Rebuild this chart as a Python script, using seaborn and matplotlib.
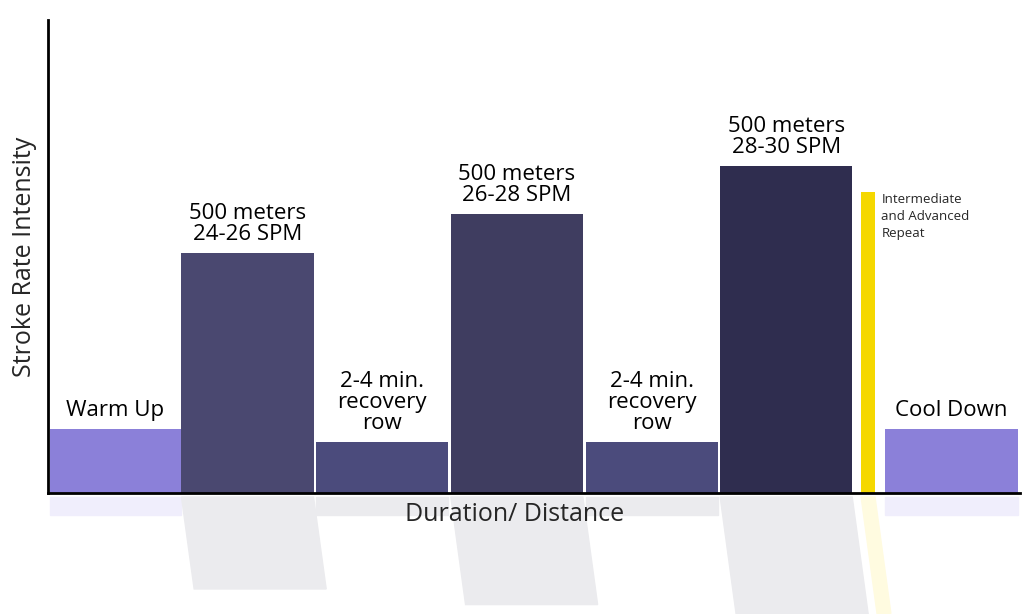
import matplotlib
matplotlib.use("Agg")
import matplotlib.pyplot as plt
import seaborn as sns
from matplotlib.patches import Polygon

sns.set_style("white")
plt.rcParams['font.family'] = ['Open Sans', 'DejaVu Sans']

labels = ["Warm Up", "500 meters\n24-26 SPM", "2-4 min.\nrecovery\nrow", "500 meters\n26-28 SPM",
          "2-4 min.\nrecovery\nrow", "500 meters\n28-30 SPM", "", "Cool Down"]
centers = [0.51, 1.51, 2.53, 3.55, 4.57, 5.59, 6.21, 6.84]
widths = [0.99, 1.0, 1.0, 1.0, 1.0, 1.0, 0.105, 1.01]
heights = [0.64, 2.40, 0.51, 2.79, 0.51, 3.27, 3.01, 0.64]
colors = ["#8b80d9", "#4a4870", "#4b4b7c", "#3f3d60", "#4b4b7c", "#2f2d4f", "#f5d800", "#8b80d9"]
shadow = ["#f0eefc", "#ebebee", "#ebebee", "#ebebee", "#ebebee", "#ebebee", "#fffbe0", "#f0eefc"]

fig = plt.figure(figsize=(10.24, 6.14), dpi=100)
ax = fig.add_axes([0.047, 0.197, 0.949, 0.77])

# shadows
for c, w, h, sc in zip(centers, widths, heights, shadow):
    l, r = c - w / 2, c + w / 2
    if h > 1:
        d = h * 0.4
        poly = [(l, -0.04), (r, -0.04), (r + d * 0.1, -d), (l + d * 0.1, -d)]
    else:
        poly = [(l, -0.04), (r, -0.04), (r, -0.22), (l, -0.22)]
    ax.add_patch(Polygon(poly, closed=True, color=sc, clip_on=False, zorder=0))

ax.bar(centers, heights, width=widths, color=colors, edgecolor="none", zorder=2)

for i, (c, h, t) in enumerate(zip(centers, heights, labels)):
    if not t:
        continue
    ax.text(c, h + 0.08, t, ha="center", va="bottom", fontsize=16, linespacing=1.0, color="black")

ax.text(6.31, 3.0, "Intermediate\nand Advanced\nRepeat", ha="left", va="top", fontsize=9.5, linespacing=1.4)

ax.set_xlim(0, 7.36)
ax.set_ylim(0, 4.73)
ax.set_xticks([])
ax.set_yticks([])
for s in ["top", "right"]:
    ax.spines[s].set_visible(False)
for s in ["left", "bottom"]:
    ax.spines[s].set_color("black")
    ax.spines[s].set_linewidth(2)
ax.set_ylabel("Stroke Rate Intensity", fontsize=18, labelpad=8)
ax.set_xlabel("Duration/ Distance", fontsize=18, labelpad=2)
ax.xaxis.set_label_coords(0.48, -0.02, transform=ax.transAxes)
ax.xaxis.label.set_va("top")
fig.savefig("out.png", dpi=100, facecolor="white")
